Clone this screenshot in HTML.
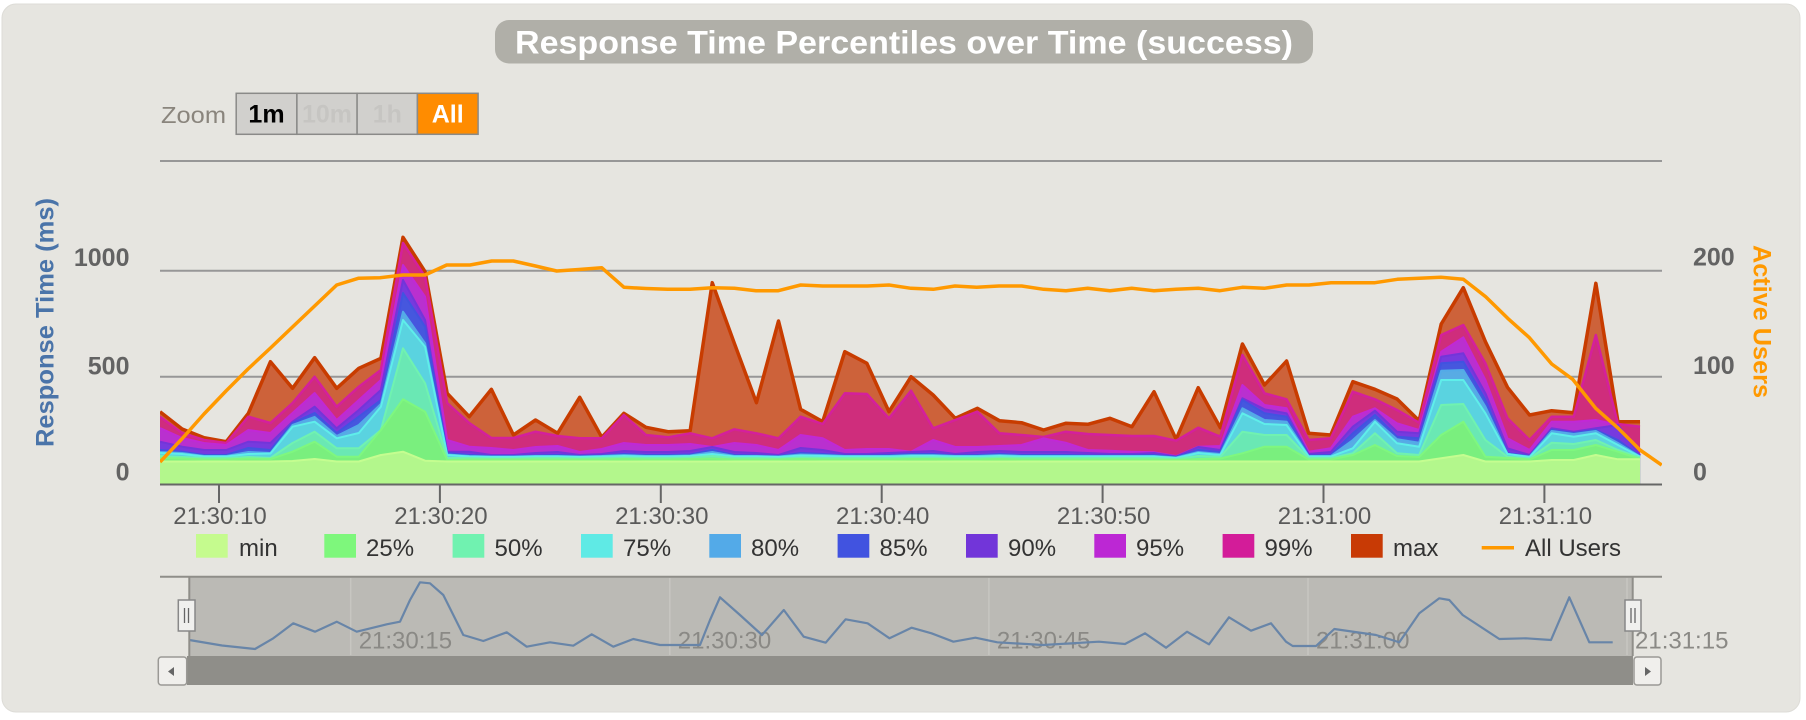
<!DOCTYPE html>
<html>
<head>
<meta charset="utf-8">
<style>
html,body{margin:0;padding:0;background:#ffffff;width:1806px;height:720px;overflow:hidden}
svg{display:block;font-family:"Liberation Sans",Arial,sans-serif}
</style>
</head>
<body>
<svg width="1806" height="720" viewBox="0 0 1806 720" xmlns="http://www.w3.org/2000/svg">
<defs>
<clipPath id="pc"><rect x="160" y="150" width="1502" height="335"/></clipPath>
</defs>
<!-- card -->
<rect x="2" y="4" width="1798" height="708" rx="14" ry="14" fill="#e6e5e0" stroke="#dddcd7" stroke-width="1"/>

<!-- title -->
<rect x="495" y="20" width="818" height="43.5" rx="14" ry="14" fill="#b0afa8"/>
<text x="904" y="53.5" text-anchor="middle" font-size="32" font-weight="bold" fill="#ffffff" textLength="778" lengthAdjust="spacingAndGlyphs">Response Time Percentiles over Time (success)</text>

<!-- zoom buttons -->
<text x="161" y="123" font-size="23" fill="#8a857d" textLength="65" lengthAdjust="spacingAndGlyphs">Zoom</text>
<rect x="236.2" y="93.3" width="60.7" height="41" fill="#d1d0cd" stroke="#8a8a88" stroke-width="1.5"/>
<rect x="296.9" y="93.3" width="60.2" height="41" fill="#d1d0cd" stroke="#8a8a88" stroke-width="1.5"/>
<rect x="357.1" y="93.3" width="60.3" height="41" fill="#d1d0cd" stroke="#8a8a88" stroke-width="1.5"/>
<rect x="417.4" y="93.3" width="60.7" height="41" fill="#ff8c00" stroke="#8a8a88" stroke-width="1.5"/>
<text x="266.5" y="122.5" text-anchor="middle" font-size="25" font-weight="bold" fill="#000">1m</text>
<text x="327" y="122.5" text-anchor="middle" font-size="25" font-weight="bold" fill="#c6c5c2">10m</text>
<text x="387.3" y="122.5" text-anchor="middle" font-size="25" font-weight="bold" fill="#c6c5c2">1h</text>
<text x="447.7" y="122.5" text-anchor="middle" font-size="25" font-weight="bold" fill="#ffffff">All</text>

<!-- grid -->
<line x1="160" y1="161" x2="1662" y2="161" stroke="#979797" stroke-width="2"/>
<line x1="160" y1="270.7" x2="1662" y2="270.7" stroke="#979797" stroke-width="2"/>
<line x1="160" y1="376.7" x2="1662" y2="376.7" stroke="#979797" stroke-width="2"/>

<!-- series -->
<g clip-path="url(#pc)">
<g transform="translate(160,0) scale(22.09,1)">
<!-- max -->
<polygon fill="#cd623a" points="0,484 0,411.7 1,429 2,437.7 3,441.7 4,413.3 5,361.7 6,388.3 7,357.7 8,388.3 9,368.3 10,358.3 11,237.3 12,271.7 13,393.3 14,416.7 15,389.3 16,435 17,420 18,433.3 19,397.3 20,437.3 21,413.3 22,427.3 23,431.7 24,430.7 25,282.7 26,343.3 27,402.7 28,321 29,409.3 30,421.7 31,351.7 32,363.3 33,411.7 34,376.7 35,395 36,418.3 37,408.3 38,420.7 39,422.7 40,430 41,423.3 42,424.3 43,418.3 44,426.7 45,391.7 46,439.3 47,387.7 48,427.7 49,344 50,385 51,361 52,433.3 53,435 54,381.7 55,389.3 56,399 57,420.7 58,324 59,287.7 60,341.7 61,387.3 62,415 63,410.7 64,412.7 65,283.3 66,421.7 67,421.7 67,484"/>
<polyline fill="none" stroke="#c83c00" stroke-width="3.5" stroke-linejoin="round" vector-effect="non-scaling-stroke" points="0,411.7 1,429 2,437.7 3,441.7 4,413.3 5,361.7 6,388.3 7,357.7 8,388.3 9,368.3 10,358.3 11,237.3 12,271.7 13,393.3 14,416.7 15,389.3 16,435 17,420 18,433.3 19,397.3 20,437.3 21,413.3 22,427.3 23,431.7 24,430.7 25,282.7 26,343.3 27,402.7 28,321 29,409.3 30,421.7 31,351.7 32,363.3 33,411.7 34,376.7 35,395 36,418.3 37,408.3 38,420.7 39,422.7 40,430 41,423.3 42,424.3 43,418.3 44,426.7 45,391.7 46,439.3 47,387.7 48,427.7 49,344 50,385 51,361 52,433.3 53,435 54,381.7 55,389.3 56,399 57,420.7 58,324 59,287.7 60,341.7 61,387.3 62,415 63,410.7 64,412.7 65,283.3 66,421.7 67,421.7"/>
<!-- 99 -->
<polygon fill="#cf2d7c" points="0,484 0,416.7 1,433 2,440 3,443 4,416.7 5,423 6,403 7,376.7 8,406.7 9,386.7 10,370 11,243 12,276.7 13,403 14,423 15,438 16,438 17,431.7 18,436 19,438.3 20,438.3 21,415 22,435 23,437.3 24,433.3 25,438.3 26,429.3 27,433.3 28,438.3 29,416.7 30,424 31,393.3 32,394 33,418.3 34,390.7 35,428.3 36,420 37,411.7 38,433.3 39,435 40,437 41,431.7 42,434 43,435 44,436 45,436 46,440.7 47,427.7 48,436.7 49,355 50,393.3 51,399.3 52,440 53,438.3 54,391.7 55,399.3 56,410 57,422.7 58,335 59,325 60,363.3 61,418.3 62,440 63,416.7 64,416.7 65,335 66,424 67,426.7 67,484"/>
<polyline fill="none" stroke="#d4209c" stroke-width="2.5" stroke-linejoin="round" vector-effect="non-scaling-stroke" points="0,416.7 1,433 2,440 3,443 4,416.7 5,423 6,403 7,376.7 8,406.7 9,386.7 10,370 11,243 12,276.7 13,403 14,423 15,438 16,438 17,431.7 18,436 19,438.3 20,438.3 21,415 22,435 23,437.3 24,433.3 25,438.3 26,429.3 27,433.3 28,438.3 29,416.7 30,424 31,393.3 32,394 33,418.3 34,390.7 35,428.3 36,420 37,411.7 38,433.3 39,435 40,437 41,431.7 42,434 43,435 44,436 45,436 46,440.7 47,427.7 48,436.7 49,355 50,393.3 51,399.3 52,440 53,438.3 54,391.7 55,399.3 56,410 57,422.7 58,335 59,325 60,363.3 61,418.3 62,440 63,416.7 64,416.7 65,335 66,424 67,426.7"/>
<!-- 95 -->
<polygon fill="#b930cf" points="0,484 0,428 1,438 2,443 3,445 4,430 5,433 6,413 7,393 8,420 9,400 10,380 11,265 12,296.7 13,440 14,446.7 15,448 16,450 17,447 18,446 19,452 20,449 21,443 22,445 23,445 24,444 25,447 26,443 27,445 28,450 29,435 30,438.3 31,450 32,449 33,449 34,451.7 35,440 36,447 37,447 38,446 39,445 40,438.3 41,442.7 42,450 43,450.7 44,451.7 45,452.3 46,456 47,446.7 48,446 49,385 50,405 51,408.3 52,451.7 53,448.3 54,416.7 55,408.3 56,423.3 57,430 58,351.7 59,337.3 60,380 61,438.3 62,450 63,421.7 64,421.7 65,420 66,425 67,455 67,484"/>
<polyline fill="none" stroke="#c128d6" stroke-width="2" stroke-linejoin="round" vector-effect="non-scaling-stroke" points="0,428 1,438 2,443 3,445 4,430 5,433 6,413 7,393 8,420 9,400 10,380 11,265 12,296.7 13,440 14,446.7 15,448 16,450 17,447 18,446 19,452 20,449 21,443 22,445 23,445 24,444 25,447 26,443 27,445 28,450 29,435 30,438.3 31,450 32,449 33,449 34,451.7 35,440 36,447 37,447 38,446 39,445 40,438.3 41,442.7 42,450 43,450.7 44,451.7 45,452.3 46,456 47,446.7 48,446 49,385 50,405 51,408.3 52,451.7 53,448.3 54,416.7 55,408.3 56,423.3 57,430 58,351.7 59,337.3 60,380 61,438.3 62,450 63,421.7 64,421.7 65,420 66,425 67,455"/>
<!-- 90 -->
<polygon fill="#773ade" points="0,484 0,441.7 1,446.7 2,450 3,450 4,441.7 5,443 6,421.7 7,406.7 8,428.3 9,410 10,390 11,280 12,320 13,451.7 14,451.7 15,455 16,455 17,453 18,452 19,455 20,454 21,451 22,452 23,452 24,451 25,447 26,452 27,453 28,455 29,448 30,450 31,454 32,454 33,453 34,452 35,451 36,454 37,452 38,451 39,452 40,452 41,452 42,453 43,454 44,454 45,453 46,456.5 47,447 48,450 49,398.3 50,409.3 51,413.3 52,454 53,452 54,426.7 55,410.7 56,431.7 57,433.3 58,356.7 59,353.3 60,393.3 61,448.3 62,455 63,428.3 64,431.7 65,428.3 66,425 67,455.5 67,484"/>
<polyline fill="none" stroke="#7335d9" stroke-width="2" stroke-linejoin="round" vector-effect="non-scaling-stroke" points="0,441.7 1,446.7 2,450 3,450 4,441.7 5,443 6,421.7 7,406.7 8,428.3 9,410 10,390 11,280 12,320 13,451.7 14,451.7 15,455 16,455 17,453 18,452 19,455 20,454 21,451 22,452 23,452 24,451 25,447 26,452 27,453 28,455 29,448 30,450 31,454 32,454 33,453 34,452 35,451 36,454 37,452 38,451 39,452 40,452 41,452 42,453 43,454 44,454 45,453 46,456.5 47,447 48,450 49,398.3 50,409.3 51,413.3 52,454 53,452 54,426.7 55,410.7 56,431.7 57,433.3 58,356.7 59,353.3 60,393.3 61,448.3 62,455 63,428.3 64,431.7 65,428.3 66,425 67,455.5"/>
<!-- 85 -->
<polygon fill="#4657de" points="0,484 0,450 1,451.7 2,455 3,455 4,448 5,450 6,423 7,413 8,433 9,416.7 10,400 11,293 12,326.7 13,453 14,455 15,456 16,456 17,455.5 18,455 19,456 20,455.5 21,454 22,455 23,455 24,454.5 25,450 26,455 27,455.5 28,456 29,453 30,454 31,455.5 32,455.5 33,455 34,454 35,454 36,455.5 37,455 38,454 39,455 40,455 41,455 42,455.5 43,455.5 44,455.5 45,455 46,457 47,450 48,452 49,400 50,413.3 51,416.7 52,455.5 53,455 54,433.3 55,415 56,436.7 57,438.3 58,363.3 59,361.7 60,400 61,453.3 62,456 63,430 64,433 65,430 66,440 67,456 67,484"/>
<polyline fill="none" stroke="#4153e0" stroke-width="2" stroke-linejoin="round" vector-effect="non-scaling-stroke" points="0,450 1,451.7 2,455 3,455 4,448 5,450 6,423 7,413 8,433 9,416.7 10,400 11,293 12,326.7 13,453 14,455 15,456 16,456 17,455.5 18,455 19,456 20,455.5 21,454 22,455 23,455 24,454.5 25,450 26,455 27,455.5 28,456 29,453 30,454 31,455.5 32,455.5 33,455 34,454 35,454 36,455.5 37,455 38,454 39,455 40,455 41,455 42,455.5 43,455.5 44,455.5 45,455 46,457 47,450 48,452 49,400 50,413.3 51,416.7 52,455.5 53,455 54,433.3 55,415 56,436.7 57,438.3 58,363.3 59,361.7 60,400 61,453.3 62,456 63,430 64,433 65,430 66,440 67,456"/>
<!-- 80 -->
<polygon fill="#58abe4" points="0,484 0,452 1,453 2,456 3,456 4,452 5,453 6,425 7,417 8,436 9,425 10,404 11,311.7 12,343.3 13,454.5 14,456 15,456.5 16,456.5 17,456 18,456 19,456.5 20,456 21,455 22,456 23,456 24,455.5 25,452 26,456 27,456 28,456.5 29,454.5 30,455 31,456 32,456 33,456 34,455 35,455 36,456 37,456 38,455 39,456 40,456 41,456 42,456 43,456 44,456 45,456 46,457.5 47,452 48,454 49,408.3 50,420 51,421.7 52,456 53,456 54,440 55,420 56,439.3 57,442.7 58,370.7 59,370 60,406.7 61,454 62,456.5 63,431 64,434 65,431 66,443 67,456.5 67,484"/>
<polyline fill="none" stroke="#53aae8" stroke-width="2" stroke-linejoin="round" vector-effect="non-scaling-stroke" points="0,452 1,453 2,456 3,456 4,452 5,453 6,425 7,417 8,436 9,425 10,404 11,311.7 12,343.3 13,454.5 14,456 15,456.5 16,456.5 17,456 18,456 19,456.5 20,456 21,455 22,456 23,456 24,455.5 25,452 26,456 27,456 28,456.5 29,454.5 30,455 31,456 32,456 33,456 34,455 35,455 36,456 37,456 38,455 39,456 40,456 41,456 42,456 43,456 44,456 45,456 46,457.5 47,452 48,454 49,408.3 50,420 51,421.7 52,456 53,456 54,440 55,420 56,439.3 57,442.7 58,370.7 59,370 60,406.7 61,454 62,456.5 63,431 64,434 65,431 66,443 67,456.5"/>
<!-- 75 -->
<polygon fill="#5ad3e0" points="0,484 0,453 1,454 2,456.5 3,456.5 4,454 5,453.5 6,426.7 7,421.7 8,438.3 9,433 10,406.7 11,320 12,346.7 13,455 14,456.5 15,457 16,457 17,456.5 18,456.5 19,457 20,456.5 21,456 22,456.5 23,456.5 24,456 25,454 26,456.5 27,456.5 28,457 29,455.5 30,456 31,456.5 32,456.5 33,456.5 34,456 35,456 36,456.5 37,456.5 38,456 39,456.5 40,456.5 41,456.5 42,456.5 43,456.5 44,456.5 45,456.5 46,458 47,453 48,455 49,413.3 50,424 51,425 52,456.5 53,456.5 54,448.3 55,421.7 56,443.3 57,446.7 58,380 59,380 60,413.3 61,454 62,457 63,433.3 64,436.7 65,433.3 66,445 67,456.7 67,484"/>
<polyline fill="none" stroke="#5feeea" stroke-width="2" stroke-linejoin="round" vector-effect="non-scaling-stroke" points="0,453 1,454 2,456.5 3,456.5 4,454 5,453.5 6,426.7 7,421.7 8,438.3 9,433 10,406.7 11,320 12,346.7 13,455 14,456.5 15,457 16,457 17,456.5 18,456.5 19,457 20,456.5 21,456 22,456.5 23,456.5 24,456 25,454 26,456.5 27,456.5 28,457 29,455.5 30,456 31,456.5 32,456.5 33,456.5 34,456 35,456 36,456.5 37,456.5 38,456 39,456.5 40,456.5 41,456.5 42,456.5 43,456.5 44,456.5 45,456.5 46,458 47,453 48,455 49,413.3 50,424 51,425 52,456.5 53,456.5 54,448.3 55,421.7 56,443.3 57,446.7 58,380 59,380 60,413.3 61,454 62,457 63,433.3 64,436.7 65,433.3 66,445 67,456.7"/>
<!-- 50 -->
<polygon fill="#6ae8b4" points="0,484 0,456 1,457 2,458 3,458 4,457 5,458 6,443 7,431.7 8,448.3 9,448.3 10,430 11,348.3 12,383.3 13,458 14,458 15,458.5 16,458.5 17,458 18,458 19,458.5 20,458 21,457.5 22,458 23,458 24,457.5 25,456 26,458 27,458 28,458.5 29,457.5 30,458 31,458 32,458 33,458 34,457.5 35,457.5 36,458 37,458 38,457.5 39,458 40,458 41,458 42,458 43,458 44,458 45,458 46,459 47,456 48,456.7 49,431.7 50,435 51,435 52,458 53,458 54,453.3 55,433.3 56,453.3 57,455 58,405 59,404 60,440 61,456.7 62,458.5 63,442.7 64,444 65,440 66,450 67,457.5 67,484"/>
<polyline fill="none" stroke="#70f2b0" stroke-width="2" stroke-linejoin="round" vector-effect="non-scaling-stroke" points="0,456 1,457 2,458 3,458 4,457 5,458 6,443 7,431.7 8,448.3 9,448.3 10,430 11,348.3 12,383.3 13,458 14,458 15,458.5 16,458.5 17,458 18,458 19,458.5 20,458 21,457.5 22,458 23,458 24,457.5 25,456 26,458 27,458 28,458.5 29,457.5 30,458 31,458 32,458 33,458 34,457.5 35,457.5 36,458 37,458 38,457.5 39,458 40,458 41,458 42,458 43,458 44,458 45,458 46,459 47,456 48,456.7 49,431.7 50,435 51,435 52,458 53,458 54,453.3 55,433.3 56,453.3 57,455 58,405 59,404 60,440 61,456.7 62,458.5 63,442.7 64,444 65,440 66,450 67,457.5"/>
<!-- 25 -->
<polygon fill="#7aef7e" points="0,484 0,458 1,458.5 2,459.5 3,459.5 4,458.5 5,459 6,451.7 7,441.7 8,456.7 9,456.7 10,430 11,399.3 12,411.7 13,460 14,459.5 20,459.5 21,459 22,459.5 23,459.5 24,459 25,458.5 26,459.5 28,459.5 29,459 30,459.5 33,459.5 34,459 35,459 36,459.5 37,459.5 38,459 39,459.5 45,459.5 46,460 47,459 48,458.5 49,453.3 50,446.7 51,446.7 52,459.5 53,459.5 54,455 55,445 56,456 57,457 58,435 59,421.7 60,456.7 61,458 62,459.5 63,450 64,450 65,445 66,451.7 67,459 67,484"/>
<polyline fill="none" stroke="#7ff77f" stroke-width="2" stroke-linejoin="round" vector-effect="non-scaling-stroke" points="0,458 1,458.5 2,459.5 3,459.5 4,458.5 5,459 6,451.7 7,441.7 8,456.7 9,456.7 10,430 11,399.3 12,411.7 13,460 14,459.5 20,459.5 21,459 22,459.5 23,459.5 24,459 25,458.5 26,459.5 28,459.5 29,459 30,459.5 33,459.5 34,459 35,459 36,459.5 37,459.5 38,459 39,459.5 45,459.5 46,460 47,459 48,458.5 49,453.3 50,446.7 51,446.7 52,459.5 53,459.5 54,455 55,445 56,456 57,457 58,435 59,421.7 60,456.7 61,458 62,459.5 63,450 64,450 65,445 66,451.7 67,459"/>
<!-- min -->
<polygon fill="#b3f78c" points="0,484 0,461.5 5,461.5 6,461 7,459 8,461.5 9,461.5 10,455 11,451.7 12,460.7 13,461.5 57,461.5 58,458.3 59,455 60,461.5 62,461.5 63,460 64,460 65,455 66,459.3 67,459.3 67,484"/>
<polyline fill="none" stroke="#c4fd90" stroke-width="2" stroke-linejoin="round" vector-effect="non-scaling-stroke" points="0,461.5 5,461.5 6,461 7,459 8,461.5 9,461.5 10,455 11,451.7 12,460.7 13,461.5 57,461.5 58,458.3 59,455 60,461.5 62,461.5 63,460 64,460 65,455 66,459.3 67,459.3"/>
</g>
<!-- users -->
<polyline fill="none" stroke="#ff9900" stroke-width="3.5" stroke-linejoin="round" points="160,462 182.7,438 204,414 226,391 248,369 270.5,348 292.5,327 314.6,306 336.7,285 358.3,278.3 380,277.7 402.7,275 425,275 446.7,265 470,265 491.7,261 513.3,261 520,262.5 535.5,266 556.7,271 579,269.5 601.7,267.7 624,287.3 646,288.5 667.7,289.3 690,289.3 712.3,287.7 734.3,288.3 756,290.7 778.3,290.7 800.7,285 822.7,286 844.8,286 867.3,286 889,285 911,288.3 933.3,289.3 955,286 976.7,287.3 999,286 1021.7,286 1043.6,289.3 1066,290.7 1087.7,288.3 1110,290.7 1131.7,288.3 1154,290.7 1176,289.3 1198.3,288.3 1220,290.7 1242.3,287.3 1264.3,288.3 1286.7,285 1309,285 1331,282.7 1352.7,282.7 1375,282.7 1397.3,279.3 1419.3,278.3 1441,277.3 1463.3,279.3 1485.7,296.7 1507.7,318.3 1529,337.3 1551.7,364 1572.7,379.3 1595.7,408.3 1618.3,428.3 1640,450 1661.7,465"/>
</g>

<!-- x axis -->
<line x1="160" y1="484.5" x2="1662" y2="484.5" stroke="#666" stroke-width="2"/>
<g stroke="#666" stroke-width="2">
<line x1="219" y1="485" x2="219" y2="503"/>
<line x1="439.9" y1="485" x2="439.9" y2="503"/>
<line x1="660.8" y1="485" x2="660.8" y2="503"/>
<line x1="881.7" y1="485" x2="881.7" y2="503"/>
<line x1="1102.6" y1="485" x2="1102.6" y2="503"/>
<line x1="1323.5" y1="485" x2="1323.5" y2="503"/>
<line x1="1544.4" y1="485" x2="1544.4" y2="503"/>
</g>
<g font-size="24" fill="#5a5a5a" text-anchor="middle">
<text x="220" y="524">21:30:10</text>
<text x="440.9" y="524">21:30:20</text>
<text x="661.8" y="524">21:30:30</text>
<text x="882.7" y="524">21:30:40</text>
<text x="1103.6" y="524">21:30:50</text>
<text x="1324.5" y="524">21:31:00</text>
<text x="1545.4" y="524">21:31:10</text>
</g>

<!-- y axis labels -->
<g font-size="25" font-weight="bold" fill="#636363">
<text x="129.5" y="266" text-anchor="end">1000</text>
<text x="129.5" y="374.5" text-anchor="end">500</text>
<text x="129.5" y="480.5" text-anchor="end">0</text>
<text x="1693" y="265.6">200</text>
<text x="1693" y="374">100</text>
<text x="1693" y="480.6">0</text>
</g>
<text transform="translate(53.3,322.5) rotate(-90)" text-anchor="middle" font-size="25" font-weight="bold" fill="#4a74a9" textLength="249" lengthAdjust="spacingAndGlyphs">Response Time (ms)</text>
<text transform="translate(1753.5,321.5) rotate(90)" text-anchor="middle" font-size="25" font-weight="bold" fill="#ff9900" textLength="153" lengthAdjust="spacingAndGlyphs">Active Users</text>

<!-- legend -->
<g>
<rect x="196" y="534" width="31.7" height="23.7" fill="#c5fb8e"/>
<rect x="324.3" y="534" width="31.7" height="23.7" fill="#7ef77c"/>
<rect x="452.6" y="534" width="31.7" height="23.7" fill="#70f2b0"/>
<rect x="581" y="534" width="31.7" height="23.7" fill="#5feae5"/>
<rect x="709.3" y="534" width="31.7" height="23.7" fill="#53aae8"/>
<rect x="837.6" y="534" width="31.7" height="23.7" fill="#4153e0"/>
<rect x="966" y="534" width="31.7" height="23.7" fill="#7235d9"/>
<rect x="1094.3" y="534" width="31.7" height="23.7" fill="#bc27d4"/>
<rect x="1222.6" y="534" width="31.7" height="23.7" fill="#d31c99"/>
<rect x="1351" y="534" width="31.7" height="23.7" fill="#c83a05"/>
<line x1="1481.7" y1="547.7" x2="1514" y2="547.7" stroke="#ff9900" stroke-width="3.5"/>
</g>
<g font-size="24" fill="#333333">
<text x="239" y="556">min</text>
<text x="366" y="556">25%</text>
<text x="494.5" y="556">50%</text>
<text x="623" y="556">75%</text>
<text x="751" y="556">80%</text>
<text x="879.5" y="556">85%</text>
<text x="1008" y="556">90%</text>
<text x="1136" y="556">95%</text>
<text x="1264.5" y="556">99%</text>
<text x="1393" y="556">max</text>
<text x="1525" y="556">All Users</text>
</g>

<!-- navigator -->
<rect x="189.3" y="577.5" width="1443.4" height="78.5" fill="#bbbab5"/>
<g stroke="#c7c6c1" stroke-width="1.5">
<line x1="350.7" y1="578" x2="350.7" y2="655"/>
<line x1="669.8" y1="578" x2="669.8" y2="655"/>
<line x1="988.9" y1="578" x2="988.9" y2="655"/>
<line x1="1308" y1="578" x2="1308" y2="655"/>
<line x1="1627" y1="578" x2="1627" y2="655"/>
</g>
<g font-size="24" fill="#8a8985">
<text x="358.7" y="648.5">21:30:15</text>
<text x="677.8" y="648.5">21:30:30</text>
<text x="996.9" y="648.5">21:30:45</text>
<text x="1316" y="648.5">21:31:00</text>
<text x="1635" y="648.5">21:31:15</text>
</g>
<polyline fill="none" stroke="#6885a8" stroke-width="2.2" stroke-linejoin="round" points="189.3,640 222,645.5 255,649 273.3,638.3 293.3,623.3 315,631.7 336.7,621.7 356.7,631.7 386.7,624.3 400,621.7 410,600 420,582.3 430,583.3 443.3,595 463.3,635 483.3,641 506.7,632.3 526.7,646.7 550,642.3 573.3,645.7 591.7,634.3 613.3,646.7 633.3,639 660,645 700,645 710,620 720,597.3 740,615 762,635 783.8,610 803.7,636.7 825.7,642.7 845.6,619.3 867.6,623.3 889.5,638.3 911.5,627.7 931.5,633.3 953.4,641.7 975.4,637.7 997.3,642.3 1043,645 1099,641.7 1125,644 1145,633.3 1166,647.7 1187,631.7 1209,644.3 1229,617.3 1251,630.7 1271,623.3 1286,641.7 1292.7,646 1316,646 1334.3,629 1376,635 1399.3,642.3 1419.3,613.3 1439.3,598.3 1449.3,600 1462.7,615 1499.3,639 1526,638.3 1551,640 1569.3,597.3 1589.3,642.3 1612.7,642.3"/>
<line x1="160" y1="576.7" x2="1662" y2="576.7" stroke="#8f8e89" stroke-width="2"/>
<line x1="189.3" y1="577" x2="189.3" y2="656" stroke="#8f8e89" stroke-width="2"/>
<line x1="1632.7" y1="577" x2="1632.7" y2="656" stroke="#8f8e89" stroke-width="2"/>
<!-- handles -->
<rect x="178.3" y="600" width="16.7" height="31" fill="#f0f0ee" stroke="#888" stroke-width="1.5"/>
<line x1="184.5" y1="608" x2="184.5" y2="623" stroke="#666" stroke-width="1.3"/>
<line x1="188.5" y1="608" x2="188.5" y2="623" stroke="#666" stroke-width="1.3"/>
<rect x="1625" y="600" width="16" height="31" fill="#f0f0ee" stroke="#888" stroke-width="1.5"/>
<line x1="1631" y1="608" x2="1631" y2="623" stroke="#666" stroke-width="1.3"/>
<line x1="1635" y1="608" x2="1635" y2="623" stroke="#666" stroke-width="1.3"/>
<!-- scrollbar -->
<rect x="187" y="656" width="1446" height="29" fill="#8f8e89"/>
<rect x="158.3" y="657" width="28.4" height="28" rx="3" fill="#f0efec" stroke="#9a9995" stroke-width="1.5"/>
<polygon points="168,671.5 174,667 174,676" fill="#666"/>
<rect x="1634" y="657" width="27" height="28" rx="3" fill="#f0efec" stroke="#9a9995" stroke-width="1.5"/>
<polygon points="1651,671.5 1645,667 1645,676" fill="#666"/>
</svg>
</body>
</html>
